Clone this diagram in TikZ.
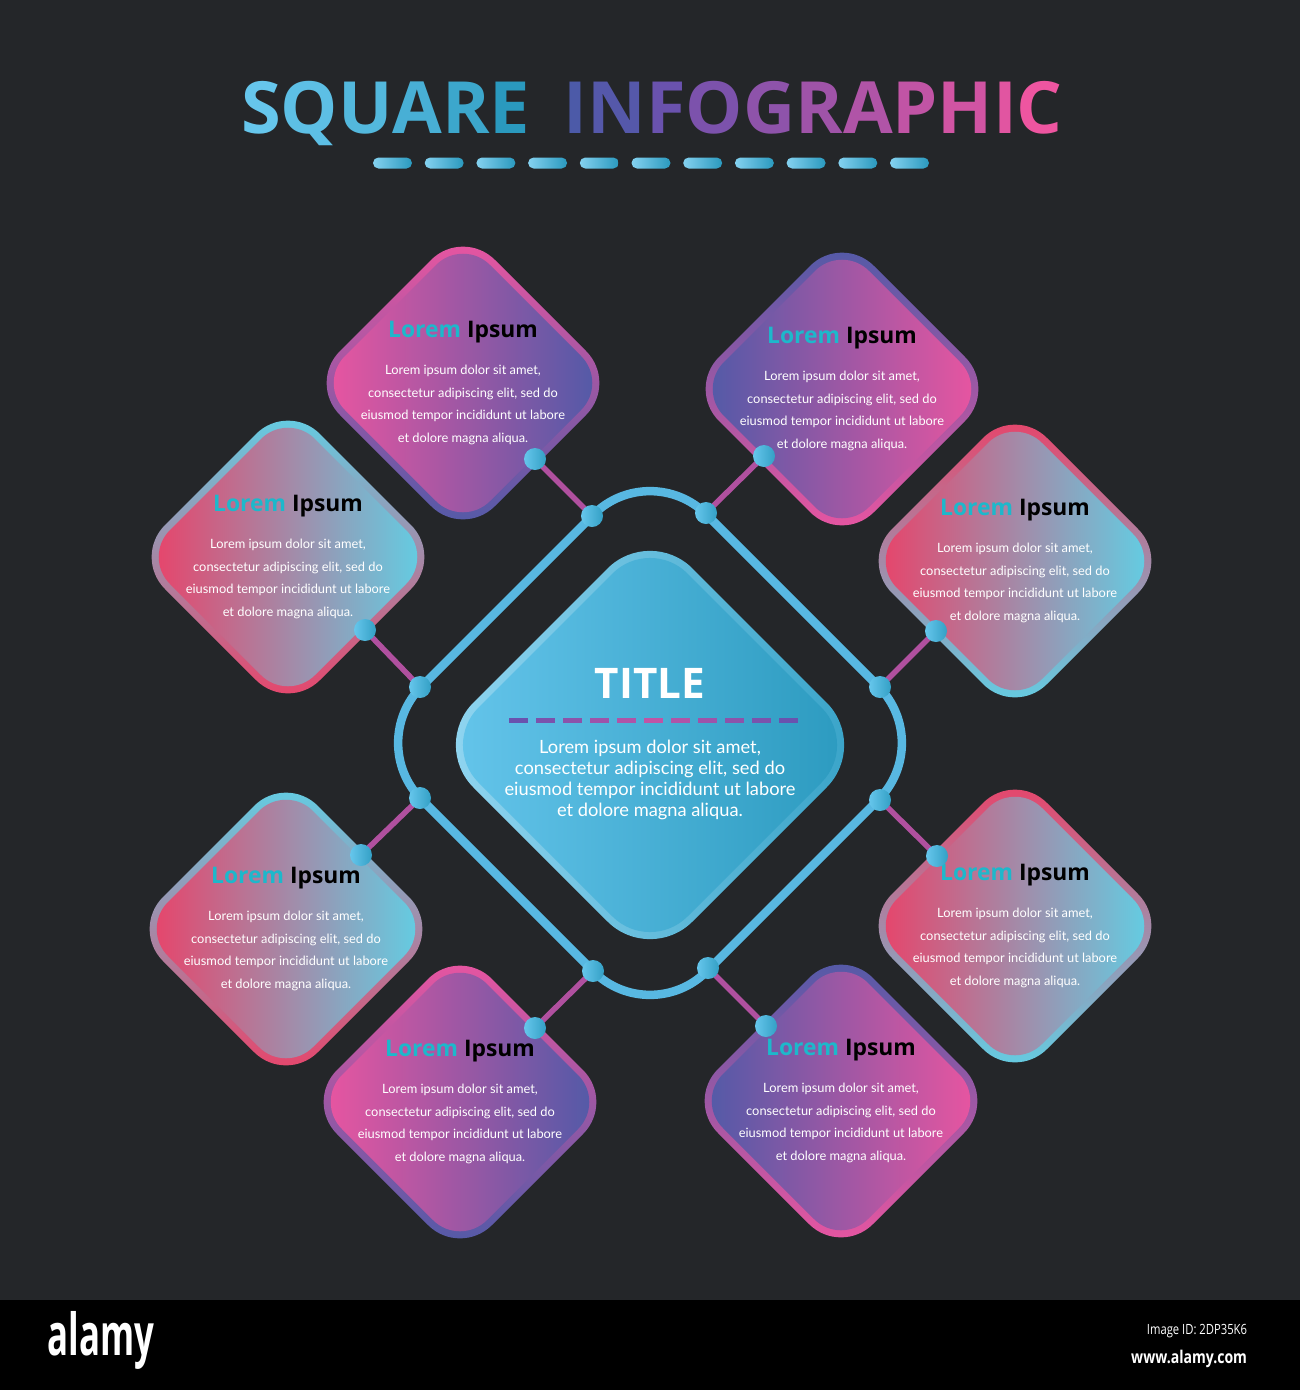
\documentclass[tikz,border=0pt]{standalone}
\usepackage{xcolor}
\usepackage{fontspec}
\setmainfont{Open Sans}
\newfontfamily\bodyfont{Lato}
\usetikzlibrary{backgrounds}

\definecolor{bgdark}{HTML}{242629}
\definecolor{skyblue}{HTML}{66C6EC}
\definecolor{seablue}{HTML}{2A99BE}
\definecolor{rosepink}{HTML}{EE55A0}
\definecolor{indigo}{HTML}{4C5AA8}
\definecolor{violet}{HTML}{6A52AE}
\definecolor{coral}{HTML}{EC3F66}
\definecolor{aqua}{HTML}{5DD3E8}
\definecolor{loremcyan}{HTML}{1DB8CB}
\definecolor{wire}{HTML}{B0509F}
\definecolor{ringblue}{HTML}{58B8E2}

\begin{document}
\begin{tikzpicture}[x=0.2mm, y=-0.2mm,
    head/.style={anchor=base, font=\bfseries\fontsize{13}{16}\selectfont},
    blurb/.style={align=center, text=white, font=\bodyfont\fontsize{7.3}{12.9}\selectfont},
    knob/.style={circle, minimum size=4.4mm, inner sep=0pt, left color=skyblue, right color=seablue!85!skyblue},
    wirelink/.style={wire, line width=1.1mm}]
    \useasboundingbox (0,0) rectangle (1300,1390);
    % Footer strip
    \fill[black] (0,1300) rectangle (1300,1390);
    \node[text=white, font=\bfseries\fontsize{33}{33}\selectfont, xscale=0.6] (logo) at (101,1340) {alamy};
    \node[anchor=east, text=white, font=\fontsize{8}{8}\selectfont, xscale=0.8] (imageid) at (1252,1331) {Image ID: 2DP35K6};
    \node[anchor=east, text=white, font=\bfseries\fontsize{10}{10}\selectfont, xscale=0.8] (website) at (1252,1359) {www.alamy.com};

    % Heading and dashes
    \node[anchor=base, font=\bfseries\fontsize{41}{41}\selectfont] (heading) at (652,133)
        {\textcolor{skyblue}{S}\textcolor{skyblue!85!seablue}{Q}\textcolor{skyblue!68!seablue}{U}\textcolor{skyblue!50!seablue}{A}\textcolor{skyblue!30!seablue}{R}\textcolor{seablue}{E}\hspace{3mm} \textcolor{indigo}{I}\textcolor{indigo!70!violet}{N}\textcolor{violet}{F}\textcolor{violet!86!rosepink}{O}\textcolor{violet!73!rosepink}{G}\textcolor{violet!60!rosepink}{R}\textcolor{violet!47!rosepink}{A}\textcolor{violet!34!rosepink}{P}\textcolor{violet!22!rosepink}{H}\textcolor{violet!10!rosepink}{I}\textcolor{rosepink}{C}};
    \foreach \i in {0,...,10}
        \path[rounded corners=1.1mm, left color=skyblue!80!white, right color=seablue] (373+\i*51.7,157.5) rectangle ++(39,11);

    % Centre tile
    \path[rounded corners=12mm, left color=skyblue!70!white, right color=seablue!80!skyblue] (650,526) -- (869,745) -- (650,964) -- (431,745) -- cycle;
    \path[rounded corners=10.6mm, left color=skyblue, right color=seablue] (650,536) -- (859,745) -- (650,954) -- (441,745) -- cycle;
    \node[anchor=base, text=white, font=\bfseries\fontsize{24}{24}\selectfont] (tiletitle) at (650,698) {TITLE};
    \foreach \i in {0,...,10} {
        \pgfmathsetmacro\mix{int(65-13*abs(\i-5))}
        \fill[rosepink!\mix!violet] (509+\i*27,717.5) rectangle ++(19,5);
    }
    \node[blurb, font=\bodyfont\fontsize{10.4}{12}\selectfont] (tiletext) at (650,780)
        {Lorem ipsum dolor sit amet,\\consectetur adipiscing elit, sed do\\eiusmod tempor incididunt ut labore\\et dolore magna aliqua.};

    % Eight satellite tiles: border shade, then fill shade, then text
    \foreach \n/\cx/\cy/\bt/\bb/\fl/\fr in {b1/463/383/rosepink/indigo/rosepink/indigo,
        b2/842/389/indigo/rosepink/indigo/rosepink, b3/288/557/aqua/coral/coral/aqua,
        b4/1015/561/coral/aqua/coral/aqua, b5/286/929/aqua/coral/coral/aqua,
        b6/1015/926/coral/aqua/coral/aqua, b7/460/1102/rosepink/indigo/rosepink/indigo,
        b8/841/1101/indigo/rosepink/indigo/rosepink} {
        \path[rounded corners=9mm, top color=\bt, bottom color=\bb] (\cx,\cy-155) -- (\cx+155,\cy) -- (\cx,\cy+155) -- (\cx-155,\cy) -- cycle;
        \path[rounded corners=7.6mm, left color=\fl, right color=\fr] (\cx,\cy-145) -- (\cx+145,\cy) -- (\cx,\cy+145) -- (\cx-145,\cy) -- cycle;
        \node[head] (\n-head) at (\cx,\cy-46) {\textcolor{loremcyan}{Lorem} \textcolor{black}{Ipsum}};
        \node[blurb] (\n-text) at (\cx,\cy+22)
            {Lorem ipsum dolor sit amet,\\consectetur adipiscing elit, sed do\\eiusmod tempor incididunt ut labore\\et dolore magna aliqua.};
    }

    % Knobs on the ring and on the tiles
    \foreach \n/\x/\y in {f1/592/516, f2/706/513, f3/880/687, f4/880/800, f5/708/968, f6/593/971, f7/420/798, f8/420/687,
        k1/535/459, k2/764/456, k3/365/630, k4/936/631, k5/361/855, k6/937/856, k7/535/1028, k8/766/1026}
        \node[knob] (\n) at (\x,\y) {};

    \begin{pgfonlayer}{background}
        \fill[bgdark] (0,0) rectangle (1300,1300);
        % Ring round the centre tile
        \draw[ringblue, line width=1.7mm, rounded corners=16mm] (650,458) -- (935,743) -- (650,1028) -- (365,743) -- cycle;
        \foreach \a/\b in {k1/f1, k2/f2, k4/f3, k6/f4, k8/f5, k7/f6, k5/f7, k3/f8}
            \draw[wirelink] (\a.center) -- (\b.center);
    \end{pgfonlayer}
\end{tikzpicture}
\end{document}
